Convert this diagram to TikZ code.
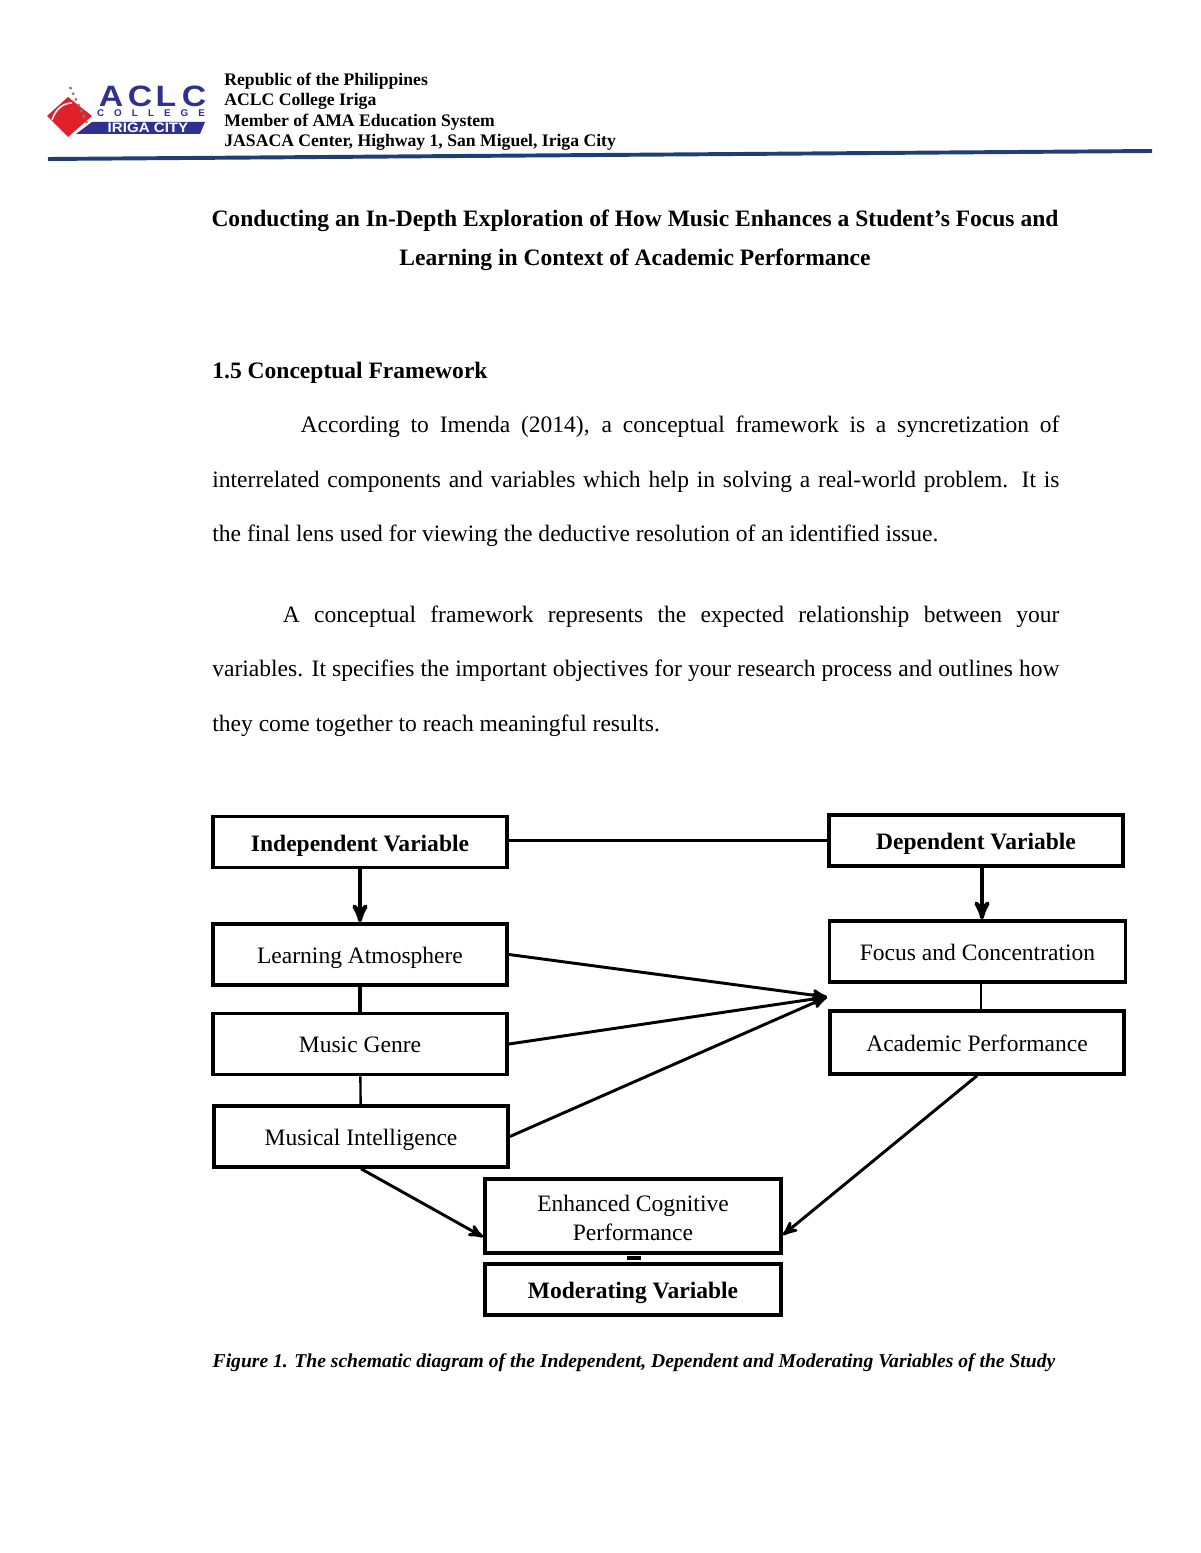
\documentclass[tikz,border=0pt]{standalone}
\usepackage{fontspec}
\setmainfont{Liberation Serif}
\newfontfamily\logofont{Liberation Sans}
\usepackage{xcolor}
\usepackage{tikz}
\usetikzlibrary{arrows,positioning}
\tikzset{>=stealth'}
\definecolor{headblue}{HTML}{1F3F73}
\definecolor{logoblue}{HTML}{2E3192}
\definecolor{logored}{HTML}{E0202A}
\newcommand{\bodysize}{\fontsize{12}{12}\selectfont}
\newcommand{\logoletter}[1]{\scalebox{1.15}[1]{#1}}
\begin{document}
\begin{tikzpicture}[x=0.51pt,y=-0.51pt,
              varbox/.style={draw, line width=1.9pt, minimum width=150pt, inner sep=0pt, align=center, font=\bodysize},
              oneline/.style={varbox, text height=11.4pt, text depth=2.7pt},
              boldbox/.style={oneline, minimum height=26pt, text height=12pt, font=\bodysize\bfseries},
              headline/.style={anchor=base west, inner sep=0pt, font=\fontsize{9}{9}\selectfont\bfseries},
              bodyline/.style={anchor=base west, inner sep=0pt, text width=432pt, align=justify, font=\bodysize},
              logoletters/.style={inner sep=0pt, text=logoblue, font=\logofont\bfseries\fontsize{15}{15}\selectfont},
              link/.style={line width=1.2pt},
              heavylink/.style={line width=1.8pt},
              arrowlink/.style={line width=1.5pt, ->},
              downarrow/.style={line width=2pt, ->},
             ]
\useasboundingbox (0,0) rectangle (1200,1553);

% logo
\fill[logored] (47,116) -- (68,97) -- (92,116) -- (68,137) -- cycle;
\draw[gray, line width=1.2pt, dotted] (70,87) -- (87,123);
\draw[white, line width=0.8pt] (52,120) .. controls (56,108) and (64,103) .. (72,103);
\node[logoletters] (logoA) at (111,96) {\logoletter{A}};
\node[logoletters] (logoC) at (140,96) {\logoletter{C}};
\node[logoletters] (logoL) at (166,96) {\logoletter{L}};
\node[logoletters] (logoD) at (194,96) {\logoletter{C}};
\node[inner sep=0pt, text=logoblue, font=\logofont\bfseries\fontsize{5}{5}\selectfont] (college) at (151,113) {\makebox[55pt][s]{C\hfill O\hfill L\hfill L\hfill E\hfill G\hfill E}};
\fill[logoblue] (92,122) -- (205,122) -- (200,134) -- (76,134) -- cycle;
\node[inner sep=0pt, text=white, font=\logofont\bfseries\fontsize{7}{7}\selectfont] (iriga) at (148,128) {\scalebox{1.1}[1]{IRIGA CITY}};

% header
\node[headline] (head1) at (224,86) {Republic of the Philippines};
\node[headline] (head2) at (224,106) {ACLC College Iriga};
\node[headline] (head3) at (224,127) {Member of AMA Education System};
\node[headline] (head4) at (224,147) {JASACA Center, Highway 1, San Miguel, Iriga City};
\draw[headblue, line width=2pt] (48,159) -- (1152,151);

% title
\node[anchor=base, inner sep=0pt, font=\bodysize\bfseries] (title1) at (635,226) {Conducting an In-Depth Exploration of How Music Enhances a Student’s Focus and};
\node[anchor=base, inner sep=0pt, font=\bodysize\bfseries] (title2) at (635,266) {Learning in Context of Academic Performance};
\node[anchor=base west, inner sep=0pt, font=\bodysize\bfseries] (section) at (212,378) {1.5 Conceptual Framework};

% paragraphs
\node[bodyline] (para1a) at (212,432) {\hspace*{45pt}According to Imenda (2014), a conceptual framework is a syncretization of\linebreak};
\node[bodyline] (para1b) at (212,487) {interrelated components and variables which help in solving a real-world problem. It is\linebreak};
\node[bodyline] (para1c) at (212,541) {the final lens used for viewing the deductive resolution of an identified issue.};
\node[bodyline] (para2a) at (212,622) {\hspace*{36pt}A conceptual framework represents the expected relationship between your\linebreak};
\node[bodyline] (para2b) at (212,676) {variables. It specifies the important objectives for your research process and outlines how\linebreak};
\node[bodyline] (para2c) at (212,731) {they come together to reach meaningful results.};

% boxes
\node[boldbox] (indep) at (360,842) {Independent Variable};
\node[boldbox] (dep) at (976,840.5) {Dependent Variable};
\node[oneline, minimum height=31pt] (atmos) at (360,954.5) {Learning Atmosphere};
\node[oneline, minimum height=31pt, text height=10.9pt] (genre) at (360,1044) {Music Genre};
\node[oneline, minimum height=31pt] (intel) at (361,1136.5) {Musical Intelligence};
\node[oneline, minimum height=31pt, minimum width=151pt] (focus) at (977.5,951.5) {Focus and Concentration};
\node[oneline, minimum height=32pt] (acad) at (977,1042.5) {Academic Performance};
\node[varbox, minimum height=38pt, minimum width=151pt] (enhanced) at (633,1216) {\rule{0pt}{10.2pt}Enhanced Cognitive\\[3pt]Performance};
\node[boldbox, minimum width=151pt] (moder) at (633,1289.5) {Moderating Variable};

\coordinate (hub) at (827,997);
\coordinate (enhleft) at (enhanced.west |- 0,1237);
\coordinate (enhright) at (enhanced.east |- 0,1235);

% connectors
\draw[link] (indep.east |- dep.west) -- (dep.west);
\draw[downarrow] (indep) -- (atmos);
\draw[downarrow] (dep.south -| 982,0) -- (focus.north -| 982,0);
\draw[heavylink] (atmos) -- (genre);
\draw[link] (genre) -- (intel);
\draw[link] (focus.south -| 981,0) -- (acad.north -| 981,0);
\draw[arrowlink] (atmos.east) -- (hub);
\draw[arrowlink] (genre.east) -- (hub);
\draw[arrowlink] (intel.east) -- (hub);
\draw[arrowlink] (intel.south) -- (enhleft);
\draw[arrowlink] (acad.south) -- (enhright);
\draw[line width=1.8pt] (627,1258) -- (641,1258);

% caption
\node[anchor=base, inner sep=0pt, font=\fontsize{10}{10}\selectfont\bfseries\itshape] (caption) at (634,1367) {Figure 1. The schematic diagram of the Independent, Dependent and Moderating Variables of the Study};
\end{tikzpicture}
\end{document}
